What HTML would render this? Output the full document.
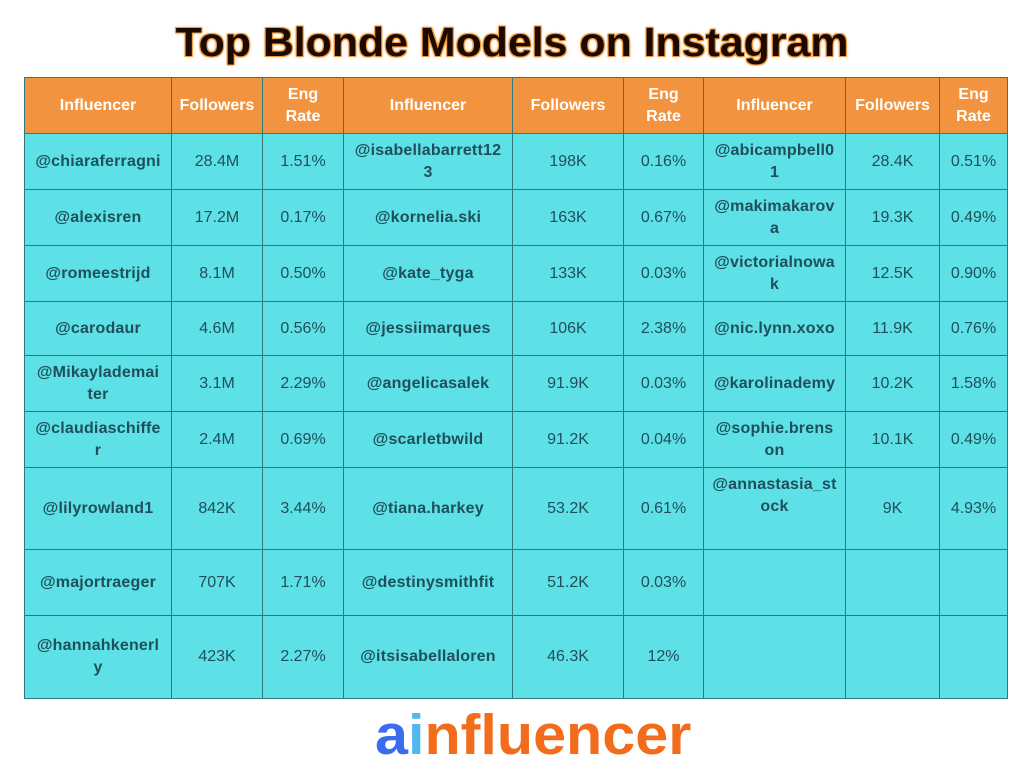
<!DOCTYPE html>
<html><head><meta charset="utf-8"><style>
body{margin:0;width:1024px;height:768px;background:#fff;position:relative;overflow:hidden;font-family:"Liberation Sans",sans-serif}
h1{position:absolute;top:19px;left:0;width:1024px;text-align:center;margin:0;font-size:41px;font-weight:bold;color:#1a0a00;transform:scaleX(1.045);text-shadow:-1px -1px 0 #f29a3a,1px -1px 0 #f29a3a,-1px 1px 0 #f29a3a,1px 1px 0 #f29a3a,0 0 3px #f29a3a}
table{position:absolute;left:24px;top:77px;border-collapse:collapse;table-layout:fixed;width:983px}
td,th{border:1px solid #2f7a80;text-align:center;vertical-align:middle;padding:0 2px;color:#1f4f5a;font-size:16px;line-height:22px;white-space:nowrap;overflow:hidden}
th{background:#f2943f;color:#fff;font-weight:bold;font-size:16px}
td{background:#5de0e6}
td.h{font-weight:bold;letter-spacing:0.2px}
.logo{position:absolute;left:375px;top:702px;font-size:57px;font-weight:bold;transform-origin:left top;transform:scaleX(1.04)}
</style></head><body>
<h1>Top Blonde Models on Instagram</h1>
<table>
<colgroup><col style="width:147px"><col style="width:91px"><col style="width:81px"><col style="width:169px"><col style="width:111px"><col style="width:80px"><col style="width:142px"><col style="width:94px"><col style="width:68px"></colgroup>
<tr style="height:56px"><th>Influencer</th><th>Followers</th><th>Eng<br>Rate</th><th>Influencer</th><th>Followers</th><th>Eng<br>Rate</th><th>Influencer</th><th>Followers</th><th>Eng<br>Rate</th></tr>
<tr style="height:56px"><td class="h">@chiaraferragni</td><td>28.4M</td><td>1.51%</td><td class="h">@isabellabarrett12<br>3</td><td>198K</td><td>0.16%</td><td class="h">@abicampbell0<br>1</td><td>28.4K</td><td>0.51%</td></tr>
<tr style="height:56px"><td class="h">@alexisren</td><td>17.2M</td><td>0.17%</td><td class="h">@kornelia.ski</td><td>163K</td><td>0.67%</td><td class="h">@makimakarov<br>a</td><td>19.3K</td><td>0.49%</td></tr>
<tr style="height:56px"><td class="h">@romeestrijd</td><td>8.1M</td><td>0.50%</td><td class="h">@kate_tyga</td><td>133K</td><td>0.03%</td><td class="h">@victorialnowa<br>k</td><td>12.5K</td><td>0.90%</td></tr>
<tr style="height:54px"><td class="h">@carodaur</td><td>4.6M</td><td>0.56%</td><td class="h">@jessiimarques</td><td>106K</td><td>2.38%</td><td class="h">@nic.lynn.xoxo</td><td>11.9K</td><td>0.76%</td></tr>
<tr style="height:56px"><td class="h">@Mikaylademai<br>ter</td><td>3.1M</td><td>2.29%</td><td class="h">@angelicasalek</td><td>91.9K</td><td>0.03%</td><td class="h">@karolinademy</td><td>10.2K</td><td>1.58%</td></tr>
<tr style="height:56px"><td class="h">@claudiaschiffe<br>r</td><td>2.4M</td><td>0.69%</td><td class="h">@scarletbwild</td><td>91.2K</td><td>0.04%</td><td class="h">@sophie.brens<br>on</td><td>10.1K</td><td>0.49%</td></tr>
<tr style="height:82px"><td class="h">@lilyrowland1</td><td>842K</td><td>3.44%</td><td class="h">@tiana.harkey</td><td>53.2K</td><td>0.61%</td><td class="h" style="vertical-align:top;padding-top:6px">@annastasia_st<br>ock</td><td>9K</td><td>4.93%</td></tr>
<tr style="height:66px"><td class="h">@majortraeger</td><td>707K</td><td>1.71%</td><td class="h">@destinysmithfit</td><td>51.2K</td><td>0.03%</td><td></td><td></td><td></td></tr>
<tr style="height:83px"><td class="h">@hannahkenerl<br>y</td><td>423K</td><td>2.27%</td><td class="h">@itsisabellaloren</td><td>46.3K</td><td>12%</td><td></td><td></td><td></td></tr>
</table>
<div class="logo"><span style="color:#3b6cf0">a</span><span style="color:#4fb8f0">i</span><span style="color:#f26c1c">nfluencer</span></div>
</body></html>
